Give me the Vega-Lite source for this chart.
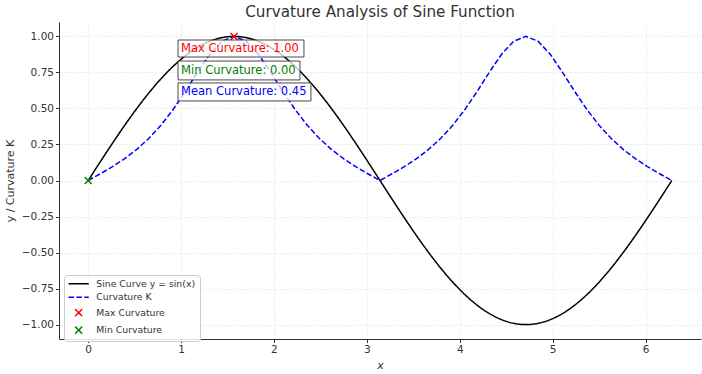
{
  "$schema": "https://vega.github.io/schema/vega-lite/v6.json",
  "autosize": "none",
  "width": 642,
  "height": 317,
  "padding": {"left": 59, "top": 22, "right": 1, "bottom": 35},
  "title": {"text": "Curvature Analysis of Sine Function", "fontSize": 15.2, "fontWeight": "normal", "color": "#333333", "anchor": "middle", "offset": 2},
  "config": {
    "font": "DejaVu Sans",
    "view": {"stroke": null},
    "axis": {
      "domainColor": "#333333", "tickColor": "#333333", "labelColor": "#333333", "titleColor": "#333333",
      "labelFontSize": 10.5, "titleFontSize": 11, "titleFontWeight": "normal",
      "tickSize": 3.5, "labelPadding": 2, "labelOverlap": false,
      "gridColor": "#e8e8e8", "gridDash": [3, 2], "gridWidth": 0.8
    },
    "legend": {
      "orient": "none", "legendX": 5, "legendY": 253,
      "fillColor": "rgba(255,255,255,0.85)", "strokeColor": "#cccccc", "cornerRadius": 3,
      "padding": 4, "labelFontSize": 9.3, "labelColor": "#333333",
      "symbolSize": 49, "symbolStrokeWidth": 1.5, "symbolOffset": 6, "labelOffset": 13,
      "rowPadding": 3.5, "title": null
    }
  },
  "datasets": {
    "curves": [
      {"x": 0, "y": 0, "K": 0},
      {"x": 0.1309, "y": 0.1305, "K": 0.0467},
      {"x": 0.2618, "y": 0.2588, "K": 0.0963},
      {"x": 0.3927, "y": 0.3827, "K": 0.1516},
      {"x": 0.5236, "y": 0.5, "K": 0.216},
      {"x": 0.6545, "y": 0.6088, "K": 0.2927},
      {"x": 0.7854, "y": 0.7071, "K": 0.3849},
      {"x": 0.9163, "y": 0.7934, "K": 0.4944},
      {"x": 1.0472, "y": 0.866, "K": 0.6197},
      {"x": 1.1781, "y": 0.9239, "K": 0.7526},
      {"x": 1.309, "y": 0.9659, "K": 0.8764},
      {"x": 1.4399, "y": 0.9914, "K": 0.9666},
      {"x": 1.5708, "y": 1, "K": 1},
      {"x": 1.7017, "y": 0.9914, "K": 0.9666},
      {"x": 1.8326, "y": 0.9659, "K": 0.8764},
      {"x": 1.9635, "y": 0.9239, "K": 0.7526},
      {"x": 2.0944, "y": 0.866, "K": 0.6197},
      {"x": 2.2253, "y": 0.7934, "K": 0.4944},
      {"x": 2.3562, "y": 0.7071, "K": 0.3849},
      {"x": 2.4871, "y": 0.6088, "K": 0.2927},
      {"x": 2.618, "y": 0.5, "K": 0.216},
      {"x": 2.7489, "y": 0.3827, "K": 0.1516},
      {"x": 2.8798, "y": 0.2588, "K": 0.0963},
      {"x": 3.0107, "y": 0.1305, "K": 0.0467},
      {"x": 3.1416, "y": 0, "K": 0},
      {"x": 3.2725, "y": -0.1305, "K": 0.0467},
      {"x": 3.4034, "y": -0.2588, "K": 0.0963},
      {"x": 3.5343, "y": -0.3827, "K": 0.1516},
      {"x": 3.6652, "y": -0.5, "K": 0.216},
      {"x": 3.7961, "y": -0.6088, "K": 0.2927},
      {"x": 3.927, "y": -0.7071, "K": 0.3849},
      {"x": 4.0579, "y": -0.7934, "K": 0.4944},
      {"x": 4.1888, "y": -0.866, "K": 0.6197},
      {"x": 4.3197, "y": -0.9239, "K": 0.7526},
      {"x": 4.4506, "y": -0.9659, "K": 0.8764},
      {"x": 4.5815, "y": -0.9914, "K": 0.9666},
      {"x": 4.7124, "y": -1, "K": 1},
      {"x": 4.8433, "y": -0.9914, "K": 0.9666},
      {"x": 4.9742, "y": -0.9659, "K": 0.8764},
      {"x": 5.1051, "y": -0.9239, "K": 0.7526},
      {"x": 5.236, "y": -0.866, "K": 0.6197},
      {"x": 5.3669, "y": -0.7934, "K": 0.4944},
      {"x": 5.4978, "y": -0.7071, "K": 0.3849},
      {"x": 5.6287, "y": -0.6088, "K": 0.2927},
      {"x": 5.7596, "y": -0.5, "K": 0.216},
      {"x": 5.8905, "y": -0.3827, "K": 0.1516},
      {"x": 6.0214, "y": -0.2588, "K": 0.0963},
      {"x": 6.1523, "y": -0.1305, "K": 0.0467},
      {"x": 6.2832, "y": 0, "K": 0}
    ],
    "extremes": [
      {"x": 1.5708, "v": 1, "s": "Max Curvature"},
      {"x": 0, "v": 0, "s": "Min Curvature"}
    ],
    "boxes": [
      {"x1": 0.967, "x2": 2.323, "y1": 0.975, "y2": 0.857},
      {"x1": 0.967, "x2": 2.28, "y1": 0.829, "y2": 0.698},
      {"x1": 0.967, "x2": 2.398, "y1": 0.677, "y2": 0.552}
    ]
  },
  "encoding": {
    "x": {"type": "quantitative",
          "scale": {"domain": [-0.3142, 6.5973], "nice": false, "zero": false},
          "axis": {"values": [0, 1, 2, 3, 4, 5, 6], "format": "d", "title": "x", "titleFontStyle": "italic", "titlePadding": 4, "grid": true}},
    "y": {"type": "quantitative",
          "scale": {"domain": [-1.1, 1.1], "nice": false, "zero": false},
          "axis": {"values": [-1, -0.75, -0.5, -0.25, 0, 0.25, 0.5, 0.75, 1], "format": ".2f", "title": "y / Curvature K", "titlePadding": 6, "grid": true}}
  },
  "layer": [
    {
      "mark": {"type": "rule", "color": "#666666", "strokeWidth": 0.8, "strokeDash": [1, 1.2]},
      "encoding": {
        "x": null,
        "y": {"datum": 0, "type": "quantitative"}
      }
    },
    {
      "data": {"name": "curves"},
      "mark": {"type": "line", "strokeWidth": 1.5, "interpolate": "monotone"},
      "encoding": {
        "x": {"field": "x", "type": "quantitative"},
        "y": {"field": "y", "type": "quantitative"},
        "color": {"datum": "Sine Curve y = sin(x)", "type": "nominal",
                  "scale": {"domain": ["Sine Curve y = sin(x)", "Curvature K", "Max Curvature", "Min Curvature"], "range": ["#000000", "#0000ff", "#ff0000", "#008000"]}},
        "strokeDash": {"datum": "Sine Curve y = sin(x)", "type": "nominal",
                  "scale": {"domain": ["Sine Curve y = sin(x)", "Curvature K", "Max Curvature", "Min Curvature"], "range": [[1, 0], [5.5, 2.4], [1, 0], [1, 0]]}}
      }
    },
    {
      "data": {"name": "curves"},
      "mark": {"type": "line", "strokeWidth": 1.5},
      "encoding": {
        "x": {"field": "x", "type": "quantitative"},
        "y": {"field": "K", "type": "quantitative"},
        "color": {"datum": "Curvature K", "type": "nominal"},
        "strokeDash": {"datum": "Curvature K", "type": "nominal"}
      }
    },
    {
      "data": {"name": "extremes"},
      "mark": {"type": "point", "filled": false, "strokeWidth": 1.5, "size": 49, "opacity": 1},
      "encoding": {
        "x": {"field": "x", "type": "quantitative"},
        "y": {"field": "v", "type": "quantitative"},
        "color": {"field": "s", "type": "nominal"},
        "shape": {"field": "s", "type": "nominal",
                  "scale": {"domain": ["Sine Curve y = sin(x)", "Curvature K", "Max Curvature", "Min Curvature"], "range": ["M-2.9,0L2.9,0", "M-2.9,0L2.9,0", "M-1,-1L1,1M-1,1L1,-1", "M-1,-1L1,1M-1,1L1,-1"]}}
      }
    },
    {
      "data": {"name": "boxes"},
      "mark": {"type": "rect", "fill": "white", "fillOpacity": 0.75, "stroke": "#333333", "strokeWidth": 0.9},
      "encoding": {
        "x": {"field": "x1", "type": "quantitative"},
        "x2": {"field": "x2"},
        "y": {"field": "y1", "type": "quantitative"},
        "y2": {"field": "y2"}
      }
    },
    {
      "data": {"values": [{"x": 1.0, "y": 0.916, "t": "Max Curvature: 1.00"}]},
      "mark": {"type": "text", "align": "left", "baseline": "middle", "fontSize": 11.5, "color": "#ff0000"},
      "encoding": {"x": {"field": "x", "type": "quantitative"}, "y": {"field": "y", "type": "quantitative"}, "text": {"field": "t"}}
    },
    {
      "data": {"values": [{"x": 1.0, "y": 0.763, "t": "Min Curvature: 0.00"}]},
      "mark": {"type": "text", "align": "left", "baseline": "middle", "fontSize": 11.5, "color": "#008000"},
      "encoding": {"x": {"field": "x", "type": "quantitative"}, "y": {"field": "y", "type": "quantitative"}, "text": {"field": "t"}}
    },
    {
      "data": {"values": [{"x": 1.0, "y": 0.614, "t": "Mean Curvature: 0.45"}]},
      "mark": {"type": "text", "align": "left", "baseline": "middle", "fontSize": 11.5, "color": "#0000ff"},
      "encoding": {"x": {"field": "x", "type": "quantitative"}, "y": {"field": "y", "type": "quantitative"}, "text": {"field": "t"}}
    }
  ]
}
